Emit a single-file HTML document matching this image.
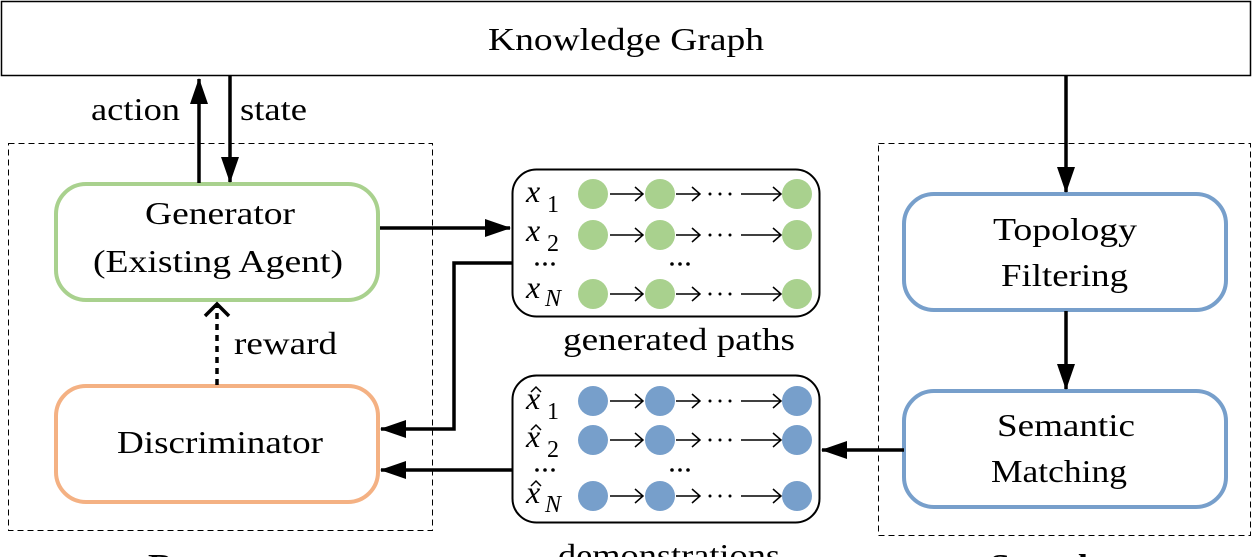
<!DOCTYPE html>
<html><head><meta charset="utf-8"><style>
html,body{margin:0;padding:0;background:#fff;width:1256px;height:557px;overflow:hidden}
svg{display:block}
svg text{font-family:"Liberation Serif","Times New Roman",serif;fill:#000}
</style></head><body>
<svg width="1256" height="557" viewBox="0 0 1256 557" xmlns="http://www.w3.org/2000/svg">
<defs>
<marker id="ahb" markerWidth="26" markerHeight="18" refX="25" refY="9" orient="auto" markerUnits="userSpaceOnUse"><path d="M0,0 L26,9 L0,18 Z" fill="#000"/></marker>
</defs>
<rect x="1.5" y="1.5" width="1249" height="74" fill="#fff" stroke="#000" stroke-width="1.5"/>
<text x="488" y="50" font-size="32" textLength="276" lengthAdjust="spacingAndGlyphs">Knowledge Graph</text>
<rect x="8.5" y="143.5" width="424" height="387" fill="none" stroke="#000" stroke-width="1" stroke-dasharray="6,4"/>
<rect x="878.5" y="143.5" width="372" height="392" fill="none" stroke="#000" stroke-width="1" stroke-dasharray="6,4"/>
<rect x="56" y="184" width="322" height="116" rx="30" fill="#fff" stroke="#a9d18e" stroke-width="4"/>
<text x="145" y="224" font-size="32" textLength="150" lengthAdjust="spacingAndGlyphs">Generator</text>
<text x="93" y="272" font-size="32" textLength="250" lengthAdjust="spacingAndGlyphs">(Existing Agent)</text>
<rect x="56" y="386" width="322" height="116" rx="30" fill="#fff" stroke="#f4b183" stroke-width="4"/>
<text x="117" y="453" font-size="32" textLength="206" lengthAdjust="spacingAndGlyphs">Discriminator</text>
<rect x="904" y="194" width="322" height="116" rx="30" fill="#fff" stroke="#779fcb" stroke-width="4"/>
<text x="993" y="240" font-size="32" textLength="144" lengthAdjust="spacingAndGlyphs">Topology</text>
<text x="1001" y="286" font-size="32" textLength="127" lengthAdjust="spacingAndGlyphs">Filtering</text>
<rect x="904" y="391" width="322" height="116" rx="30" fill="#fff" stroke="#779fcb" stroke-width="4"/>
<text x="997" y="436" font-size="32" textLength="138" lengthAdjust="spacingAndGlyphs">Semantic</text>
<text x="991" y="482" font-size="32" textLength="136" lengthAdjust="spacingAndGlyphs">Matching</text>
<rect x="512.5" y="169.5" width="307" height="147" rx="24" fill="#fff" stroke="#000" stroke-width="2"/>
<rect x="512.5" y="375.5" width="307" height="147" rx="24" fill="#fff" stroke="#000" stroke-width="2"/>
<g font-size="32" font-style="italic">
<text x="526" y="202">x</text><text x="526" y="241">x</text><text x="526" y="298">x</text>
<text x="526" y="409">x</text><text x="526" y="447">x</text><text x="526" y="503">x</text>
</g>
<g stroke="#000" stroke-width="1.5" fill="none">
<path d="M531,392 L536,387 L541,392 M531,430 L536,425 L541,430 M531,486 L536,481 L541,486"/>
</g>
<g font-size="24">
<text x="547" y="212">1</text><text x="547" y="251">2</text><text x="545" y="306" font-style="italic">N</text>
<text x="547" y="419">1</text><text x="547" y="457">2</text><text x="545" y="512" font-style="italic">N</text>
</g>
<g fill="#000">
<circle cx="537" cy="264" r="1.8"/><circle cx="545" cy="264" r="1.8"/><circle cx="553" cy="264" r="1.8"/>
<circle cx="672" cy="264" r="1.8"/><circle cx="680" cy="264" r="1.8"/><circle cx="688" cy="264" r="1.8"/>
<circle cx="537" cy="470" r="1.8"/><circle cx="545" cy="470" r="1.8"/><circle cx="553" cy="470" r="1.8"/>
<circle cx="672" cy="470" r="1.8"/><circle cx="680" cy="470" r="1.8"/><circle cx="688" cy="470" r="1.8"/>
</g>
<g fill="#a9d18e">
<circle cx="593" cy="194" r="15"/><circle cx="660" cy="194" r="15"/><circle cx="797" cy="194" r="15"/>
<circle cx="593" cy="235" r="15"/><circle cx="660" cy="235" r="15"/><circle cx="797" cy="235" r="15"/>
<circle cx="593" cy="294" r="15"/><circle cx="660" cy="294" r="15"/><circle cx="797" cy="294" r="15"/>
</g>
<g fill="#779fcb">
<circle cx="593" cy="401" r="15"/><circle cx="660" cy="401" r="15"/><circle cx="797" cy="401" r="15"/>
<circle cx="593" cy="440" r="15"/><circle cx="660" cy="440" r="15"/><circle cx="797" cy="440" r="15"/>
<circle cx="593" cy="496" r="15"/><circle cx="660" cy="496" r="15"/><circle cx="797" cy="496" r="15"/>
</g>
<g stroke="#000" stroke-width="1.5" fill="none">
<path d="M610,194 H643 M676,194 H700 M741,194 H781 M610,235 H643 M676,235 H700 M741,235 H781 M610,294 H643 M676,294 H700 M741,294 H781 M610,401 H643 M676,401 H700 M741,401 H781 M610,440 H643 M676,440 H700 M741,440 H781 M610,496 H643 M676,496 H700 M741,496 H781"/>
<path d="M635,187 L643,194 L635,201 M692,187 L700,194 L692,201 M773,187 L781,194 L773,201 M635,228 L643,235 L635,242 M692,228 L700,235 L692,242 M773,228 L781,235 L773,242 M635,287 L643,294 L635,301 M692,287 L700,294 L692,301 M773,287 L781,294 L773,301 M635,394 L643,401 L635,408 M692,394 L700,401 L692,408 M773,394 L781,401 L773,408 M635,433 L643,440 L635,447 M692,433 L700,440 L692,447 M773,433 L781,440 L773,447 M635,489 L643,496 L635,503 M692,489 L700,496 L692,503 M773,489 L781,496 L773,503"/>
</g>
<g fill="#000">
<circle cx="710" cy="194" r="1.5"/><circle cx="720" cy="194" r="1.5"/><circle cx="730" cy="194" r="1.5"/>
<circle cx="710" cy="235" r="1.5"/><circle cx="720" cy="235" r="1.5"/><circle cx="730" cy="235" r="1.5"/>
<circle cx="710" cy="294" r="1.5"/><circle cx="720" cy="294" r="1.5"/><circle cx="730" cy="294" r="1.5"/>
<circle cx="710" cy="401" r="1.5"/><circle cx="720" cy="401" r="1.5"/><circle cx="730" cy="401" r="1.5"/>
<circle cx="710" cy="440" r="1.5"/><circle cx="720" cy="440" r="1.5"/><circle cx="730" cy="440" r="1.5"/>
<circle cx="710" cy="496" r="1.5"/><circle cx="720" cy="496" r="1.5"/><circle cx="730" cy="496" r="1.5"/>
</g>
<text x="563" y="350" font-size="32" textLength="232" lengthAdjust="spacingAndGlyphs">generated paths</text>
<text x="558" y="566" font-size="32" textLength="222" lengthAdjust="spacingAndGlyphs">demonstrations</text>
<text x="148" y="576" font-size="32" font-weight="bold" textLength="144" lengthAdjust="spacingAndGlyphs">Reasoner</text>
<text x="990" y="576" font-size="32" font-weight="bold" textLength="130" lengthAdjust="spacingAndGlyphs">Sampler</text>
<g stroke="#000" stroke-width="3.5" fill="none">
<line x1="199" y1="183" x2="199" y2="79" marker-end="url(#ahb)"/>
<line x1="230" y1="76" x2="230" y2="182" marker-end="url(#ahb)"/>
<line x1="380" y1="228" x2="510" y2="228" marker-end="url(#ahb)"/>
<polyline points="513,263 454,263 454,429 381,429" marker-end="url(#ahb)"/>
<line x1="513" y1="470" x2="381" y2="470" marker-end="url(#ahb)"/>
<line x1="904" y1="450" x2="822" y2="450" marker-end="url(#ahb)"/>
<line x1="1066" y1="76" x2="1066" y2="192" marker-end="url(#ahb)"/>
<line x1="1066" y1="311" x2="1066" y2="389" marker-end="url(#ahb)"/>
<line x1="217" y1="385" x2="217" y2="306" stroke-dasharray="6,5"/>
<polyline points="205,316 217,304 229,316"/>
</g>
<text x="91" y="120" font-size="32" textLength="89" lengthAdjust="spacingAndGlyphs">action</text>
<text x="240" y="120" font-size="32" textLength="67" lengthAdjust="spacingAndGlyphs">state</text>
<text x="234" y="354" font-size="32" textLength="103" lengthAdjust="spacingAndGlyphs">reward</text>
</svg>
</body></html>
